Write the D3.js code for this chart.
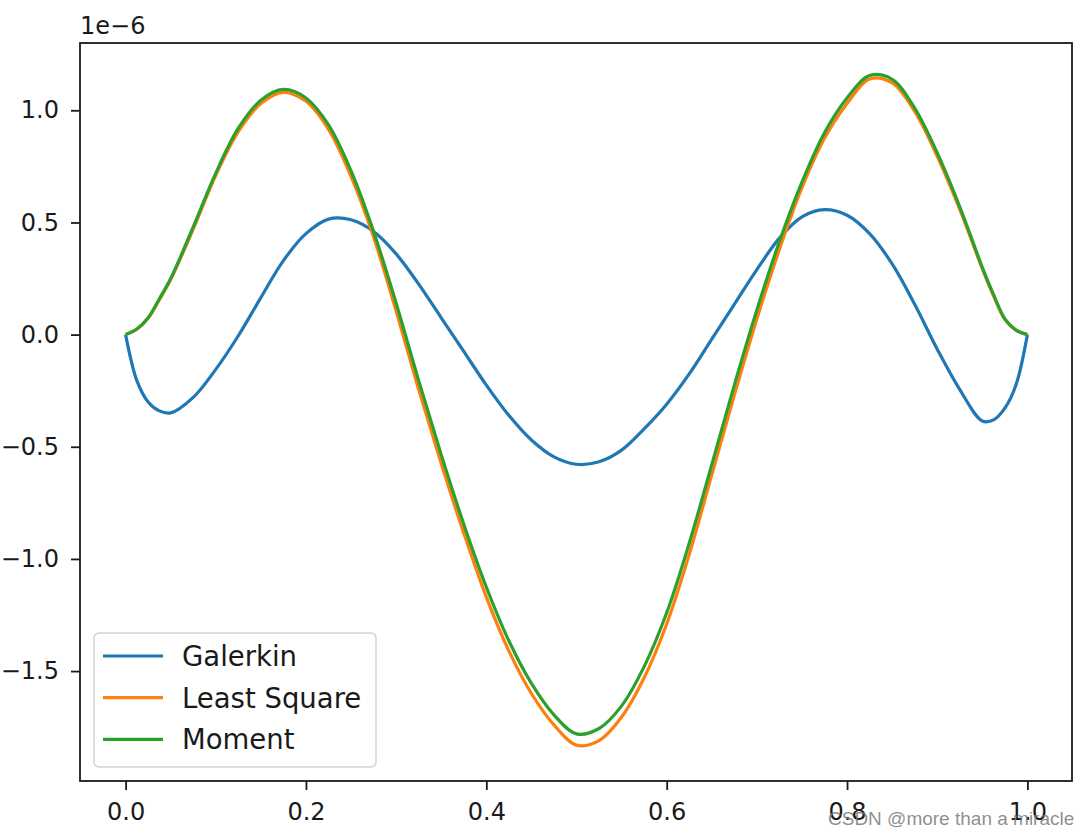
<!DOCTYPE html>
<html>
<head>
<meta charset="utf-8">
<script src="https://cdn.jsdelivr.net/npm/d3@7"></script>
<style>
  html, body { margin: 0; padding: 0; background: #fff; }
  svg { display: block; }
  text { font-family: "DejaVu Sans", sans-serif; }
</style>
</head>
<body>
<svg id="chart" width="1091" height="835"></svg>
<script>
// ---- data (values in units of 1e-6) ----
const xs = [0, 0.0125, 0.025, 0.0375, 0.05, 0.075, 0.1, 0.125, 0.15, 0.175, 0.2, 0.225, 0.25, 0.275,
  0.3, 0.325, 0.35, 0.375, 0.4, 0.425, 0.45, 0.475, 0.5, 0.525, 0.55, 0.575, 0.6, 0.625, 0.65, 0.675,
  0.7, 0.725, 0.75, 0.775, 0.8, 0.825, 0.85, 0.875, 0.9, 0.925, 0.95, 0.9625, 0.975, 0.9875, 1];

const galerkin = [0, -0.205, -0.30, -0.34, -0.349, -0.28, -0.155, -0.005, 0.165, 0.33, 0.45, 0.515, 0.512, 0.46,
  0.36, 0.225, 0.075, -0.075, -0.225, -0.36, -0.47, -0.545, -0.578, -0.567, -0.515, -0.42, -0.31, -0.175, -0.02, 0.135,
  0.29, 0.43, 0.525, 0.557, 0.532, 0.45, 0.315, 0.135, -0.065, -0.245, -0.385, -0.38, -0.328, -0.222, 0];

const leastSquare = [0, 0.024, 0.073, 0.156, 0.245, 0.47, 0.71, 0.905, 1.03, 1.08, 1.04, 0.915, 0.705, 0.435,
  0.105, -0.245, -0.575, -0.885, -1.17, -1.41, -1.60, -1.74, -1.83, -1.81, -1.705, -1.53, -1.29, -0.98, -0.625, -0.27,
  0.07, 0.38, 0.655, 0.875, 1.03, 1.14, 1.122, 0.995, 0.795, 0.558, 0.293, 0.172, 0.068, 0.019, 0];

const moment = [0, 0.025, 0.075, 0.16, 0.25, 0.48, 0.72, 0.92, 1.045, 1.093, 1.055, 0.935, 0.73, 0.46,
  0.14, -0.205, -0.535, -0.845, -1.125, -1.365, -1.555, -1.695, -1.78, -1.756, -1.655, -1.48, -1.24, -0.93, -0.58, -0.225,
  0.11, 0.415, 0.68, 0.9, 1.055, 1.155, 1.138, 1.01, 0.81, 0.57, 0.3, 0.178, 0.07, 0.02, 0];

const seriesNames = ["Galerkin", "Least Square", "Moment"];
const seriesColors = ["#1f77b4", "#ff7f0e", "#2ca02c"];
const xTicks = [0, 0.2, 0.4, 0.6, 0.8, 1.0];
const yTicks = [-1.5, -1.0, -0.5, 0.0, 0.5, 1.0];
const offsetLabel = "1e\u22126";
const watermark = "CSDN @more than a miracle";

// ---- layout ----
const svg = d3.select("#chart");
const L = 80, R = 1072, T = 43, B = 781;

const x = d3.scaleLinear().domain([-0.05, 1.05]).range([L + 0.5, R + 0.5]);
const y = d3.scaleLinear().domain([-1.99, 1.30]).range([B, T]);

const fmt = v => d3.format(".1f")(v).replace("-", "\u2212");

svg.append("rect").attr("width", 1091).attr("height", 835).attr("fill", "#fff");

// lines
const allSeries = [galerkin, leastSquare, moment];
const line = d3.line()
  .x(d => x(d[0]))
  .y(d => y(d[1]))
  .curve(d3.curveCatmullRom.alpha(0.5));

const plot = svg.append("g");
allSeries.forEach((vals, i) => {
  plot.append("path")
    .datum(xs.map((xv, j) => [xv, vals[j]]))
    .attr("fill", "none")
    .attr("stroke", seriesColors[i])
    .attr("stroke-width", 3.2)
    .attr("stroke-linejoin", "round")
    .attr("stroke-linecap", "butt")
    .attr("d", line);
});

// axes
const xAxis = d3.axisBottom(x).tickValues(xTicks).tickFormat(fmt).tickSize(9).tickPadding(13);
const yAxis = d3.axisLeft(y).tickValues(yTicks).tickFormat(fmt).tickSize(9).tickPadding(12);

const gx = svg.append("g").attr("transform", `translate(0,${B})`).call(xAxis);
const gy = svg.append("g").attr("transform", `translate(${L},0)`).call(yAxis);
[gx, gy].forEach(g => {
  g.select(".domain").remove();
  g.selectAll(".tick line").attr("stroke", "#1a1a1a").attr("stroke-width", 1.8);
  g.selectAll(".tick text").attr("fill", "#1a1a1a").style("font-size", "24px")
    .style("font-family", "'DejaVu Sans', sans-serif");
});

// frame
svg.append("rect")
  .attr("x", L).attr("y", T).attr("width", R - L).attr("height", B - T)
  .attr("fill", "none").attr("stroke", "#1a1a1a").attr("stroke-width", 1.8);

// offset text
svg.append("text")
  .attr("x", 80).attr("y", 34)
  .attr("fill", "#1a1a1a")
  .style("font-size", "24px")
  .text(offsetLabel);

// legend
const lg = svg.append("g");
lg.append("rect")
  .attr("x", 94).attr("y", 633).attr("width", 282).attr("height", 134)
  .attr("rx", 5).attr("ry", 5)
  .attr("fill", "#fff").attr("fill-opacity", 0.8)
  .attr("stroke", "#d4d4d4").attr("stroke-width", 1.5);
seriesNames.forEach((name, i) => {
  const yy = 656 + i * 41.7;
  lg.append("line")
    .attr("x1", 103).attr("x2", 163).attr("y1", yy).attr("y2", yy)
    .attr("stroke", seriesColors[i]).attr("stroke-width", 3.2);
  lg.append("text")
    .attr("x", 182).attr("y", yy).attr("dy", "0.36em")
    .attr("fill", "#1a1a1a")
    .style("font-size", "27.5px")
    .text(name);
});

// watermark (overlaps the last tick labels, as in the reference)
svg.append("text")
  .attr("x", 828).attr("y", 825)
  .attr("fill", "#7a7a7a").attr("fill-opacity", 0.85)
  .style("font-family", "'Liberation Sans', Arial, sans-serif")
  .style("font-size", "19px")
  .text(watermark);
</script>
</body>
</html>
